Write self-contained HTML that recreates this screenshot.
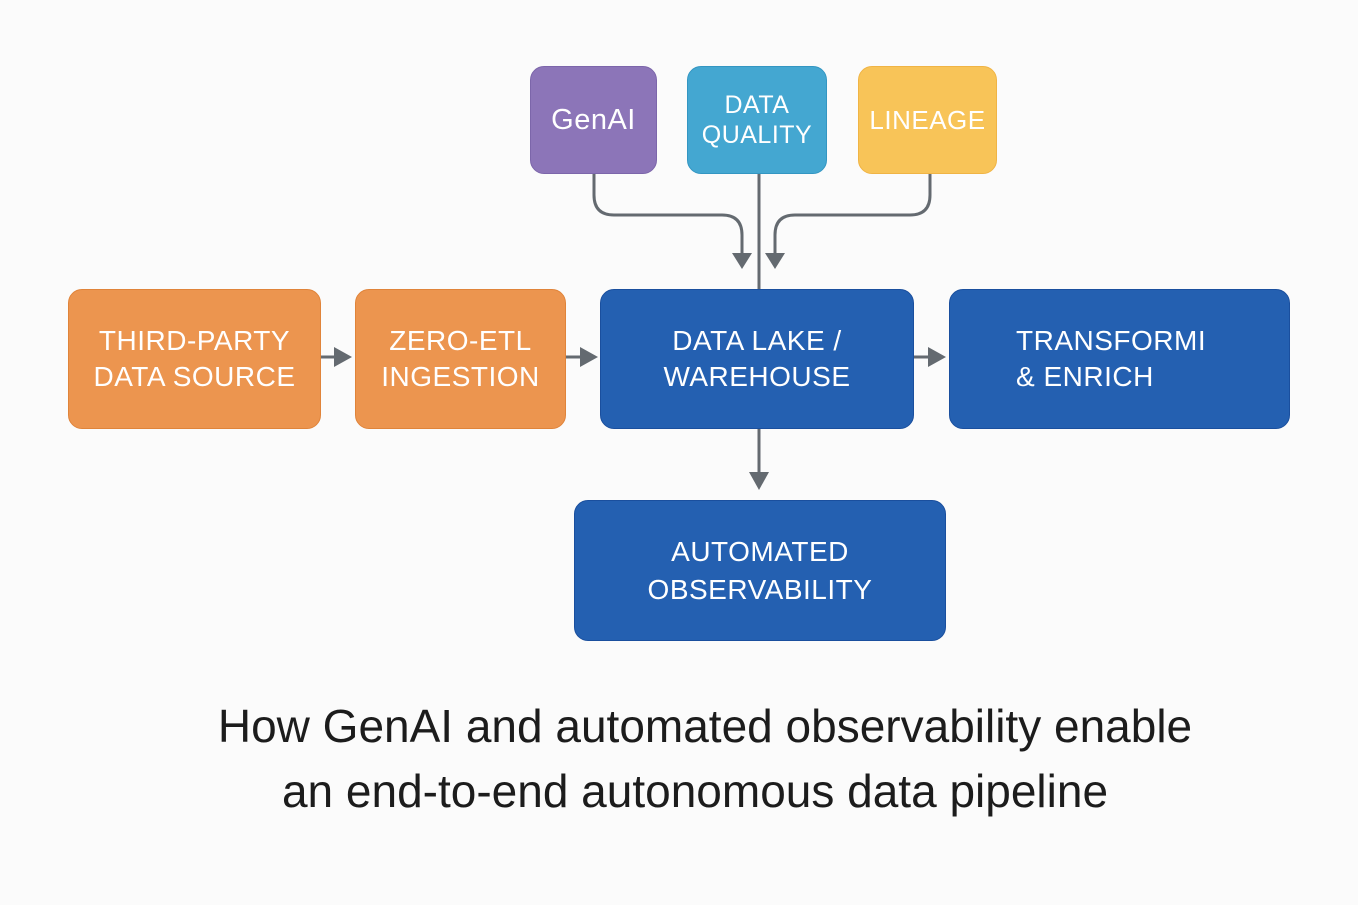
<!DOCTYPE html>
<html><head><meta charset="utf-8"><style>
body{margin:0;background:#fbfbfb;width:1358px;height:905px;overflow:hidden;font-family:"Liberation Sans",sans-serif}
.b{position:absolute;box-sizing:border-box;border-radius:14px;color:#fff;display:flex;align-items:center;justify-content:center;text-align:center;font-size:28px;line-height:36px;letter-spacing:0.5px}
.o{background:#EC954F;border:1.5px solid #E0843A}
.bl{background:#2460B1;border:1.5px solid #1A4F9E}
.t{position:absolute;text-align:center;font-size:46px;color:#1c1c1c;line-height:65px;white-space:nowrap}
</style></head><body>
<svg width="1358" height="905" style="position:absolute;left:0;top:0">
<g fill="none" stroke="#646a70" stroke-width="3">
<path d="M594 173 V195 Q594 215 614 215 H722 Q742 215 742 235 V255"/>
<path d="M930 173 V195 Q930 215 910 215 H795 Q775 215 775 235 V255"/>
<path d="M759 173 V290"/>
<path d="M320 357 H338"/><path d="M566 357 H584"/><path d="M914 357 H932"/>
<path d="M759 428 V476"/>
</g>
<g fill="#646a70">
<path d="M732 253 H752 L742 269Z"/><path d="M765 253 H785 L775 269Z"/>
<path d="M334 347 V367 L352 357Z"/><path d="M580 347 V367 L598 357Z"/><path d="M928 347 V367 L946 357Z"/>
<path d="M749 472 H769 L759 490Z"/>
</g>
</svg>
<div class="b" style="left:530px;top:66px;width:127px;height:108px;background:#8C75B8;border:1.5px solid #7C66AA;font-size:29px">GenAI</div>
<div class="b" style="left:687px;top:66px;width:140px;height:108px;background:#44A7D1;border:1.5px solid #3396C2;font-size:25px;line-height:30px">DATA<br>QUALITY</div>
<div class="b" style="left:858px;top:66px;width:139px;height:108px;background:#F8C458;border:1.5px solid #F0B445;font-size:26px">LINEAGE</div>
<div class="b o" style="left:68px;top:289px;width:253px;height:140px">THIRD-PARTY<br>DATA SOURCE</div>
<div class="b o" style="left:355px;top:289px;width:211px;height:140px">ZERO-ETL<br>INGESTION</div>
<div class="b bl" style="left:600px;top:289px;width:314px;height:140px">DATA LAKE /<br>WAREHOUSE</div>
<div class="b bl" style="left:949px;top:289px;width:341px;height:140px;justify-content:flex-start;padding-left:66px;text-align:left">TRANSFORMI<br>&amp; ENRICH</div>
<div class="b bl" style="left:574px;top:500px;width:372px;height:141px;line-height:38px">AUTOMATED<br>OBSERVABILITY</div>
<div class="t" style="top:694px;left:105px;width:1200px">How GenAI and automated observability enable</div>
<div class="t" style="top:759px;left:95px;width:1200px">an end-to-end autonomous data pipeline</div>
</body></html>
